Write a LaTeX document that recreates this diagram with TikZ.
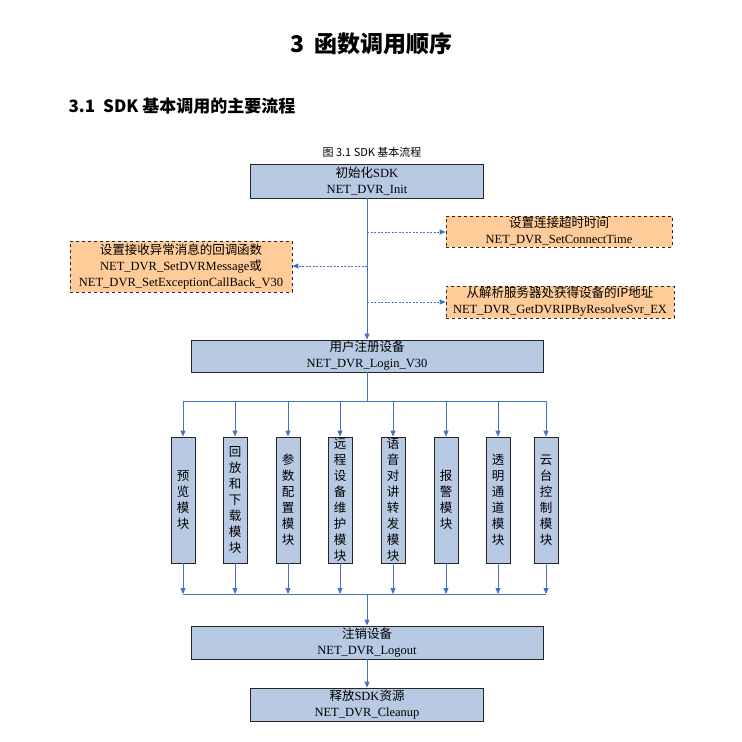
\documentclass[tikz,border=0pt]{standalone}
\usepackage{fontspec}
\setmainfont{Liberation Serif}
\newfontfamily\cjk{Noto Sans CJK SC}
\newcommand{\cn}[1]{{\cjk #1}}
\usetikzlibrary{arrows.meta}
\definecolor{bfill}{HTML}{B8C9E3}
\definecolor{ofill}{HTML}{FFCC99}
\definecolor{lblue}{HTML}{4472C4}
\begin{document}
\begin{tikzpicture}[x=1pt,y=-1pt,
  bbox/.style={draw=black!85,line width=0.8pt,fill=bfill,align=center,inner sep=0pt,font=\fontsize{12.5}{16}\selectfont},
  obox/.style={draw=black!85,dashed,line width=0.7pt,fill=ofill,align=center,inner sep=0pt,font=\fontsize{12.5}{16}\selectfont},
  mbox/.style={draw=black!85,line width=0.9pt,fill=bfill,align=center,inner sep=0pt,minimum width=24,minimum height=126,font=\cjk\fontsize{12.5}{16}\selectfont},
  ar/.style={draw=lblue,line width=0.9pt,-{Triangle[length=6pt,width=5pt]}},
  ln/.style={draw=lblue,line width=0.9pt},
  dar/.style={draw=lblue,line width=0.9pt,dashed,dash pattern=on 2pt off 1.5pt,-{Triangle[length=6pt,width=5pt]}}]
\fill[white] (0,0) rectangle (742,742);
\node[font=\cjk\bfseries\fontsize{23}{26}\selectfont] (t1) at (372,44) {3\hspace{10pt}函数调用顺序};
\node[anchor=west,font=\cjk\bfseries\fontsize{17}{20}\selectfont] (t2) at (65,106) {3.1\hspace{8pt}SDK 基本调用的主要流程};
\node[font=\cjk\fontsize{11}{13}\selectfont] (cap) at (372,152) {图 3.1 SDK 基本流程};

\node[bbox,minimum width=233,minimum height=34] (init) at (367,181) {\cn{初始化}SDK\\NET\_DVR\_Init};
\node[obox,minimum width=226,minimum height=31] (ct) at (559,231.5) {\cn{设置连接超时时间}\\NET\_DVR\_SetConnectTime};
\node[obox,minimum width=222,minimum height=51] (cb) at (181,266.5) {\cn{设置接收异常消息的回调函数}\\NET\_DVR\_SetDVRMessage\cn{或}\\NET\_DVR\_SetExceptionCallBack\_V30};
\node[obox,minimum width=228,minimum height=32] (rs) at (560,302) {\cn{从解析服务器处获得设备的IP地址}\\NET\_DVR\_GetDVRIPByResolveSvr\_EX};
\node[bbox,minimum width=352,minimum height=32] (login) at (367,356) {\cn{用户注册设备}\\NET\_DVR\_Login\_V30};
\node[bbox,minimum width=352,minimum height=33] (logout) at (367,642.5) {\cn{注销设备}\\NET\_DVR\_Logout};
\node[bbox,minimum width=233,minimum height=33] (clean) at (367,704.5) {\cn{释放}SDK\cn{资源}\\NET\_DVR\_Cleanup};

\coordinate (c1) at (367,232);
\coordinate (c2) at (367,266);
\coordinate (c3) at (367,302);
\draw[ar] (init.south) -- (login.north);
\draw[dar] (c1) -- (ct.west |- c1);
\draw[dar] (c2) -- (cb.east |- c2);
\draw[dar] (c3) -- (rs.west |- c3);

\coordinate (top) at (367,401);
\coordinate (bot) at (367,594);
\draw[ln] (login.south) -- (top);
\draw[ln] (183,401) -- (546,401);
\draw[ln] (183,594) -- (546,594);

\foreach \x/\t/\n in {183/预\\览\\模\\块/m1, 235/回\\放\\和\\下\\载\\模\\块/m2, 288/参\\数\\配\\置\\模\\块/m3, 340/远\\程\\设\\备\\维\\护\\模\\块/m4, 393/语\\音\\对\\讲\\转\\发\\模\\块/m5, 446/报\\警\\模\\块/m6, 498/透\\明\\通\\道\\模\\块/m7, 546/云\\台\\控\\制\\模\\块/m8}{
  \node[mbox] (\n) at (\x,500) {\t};
  \coordinate (\n t) at (\x,401);
  \coordinate (\n b) at (\x,594);
  \draw[ar] (\n t) -- (\n.north);
  \draw[ar] (\n.south) -- (\n b);
}
\draw[ar] (bot) -- (logout.north);
\draw[ar] (logout.south) -- (clean.north);
\end{tikzpicture}
\end{document}
